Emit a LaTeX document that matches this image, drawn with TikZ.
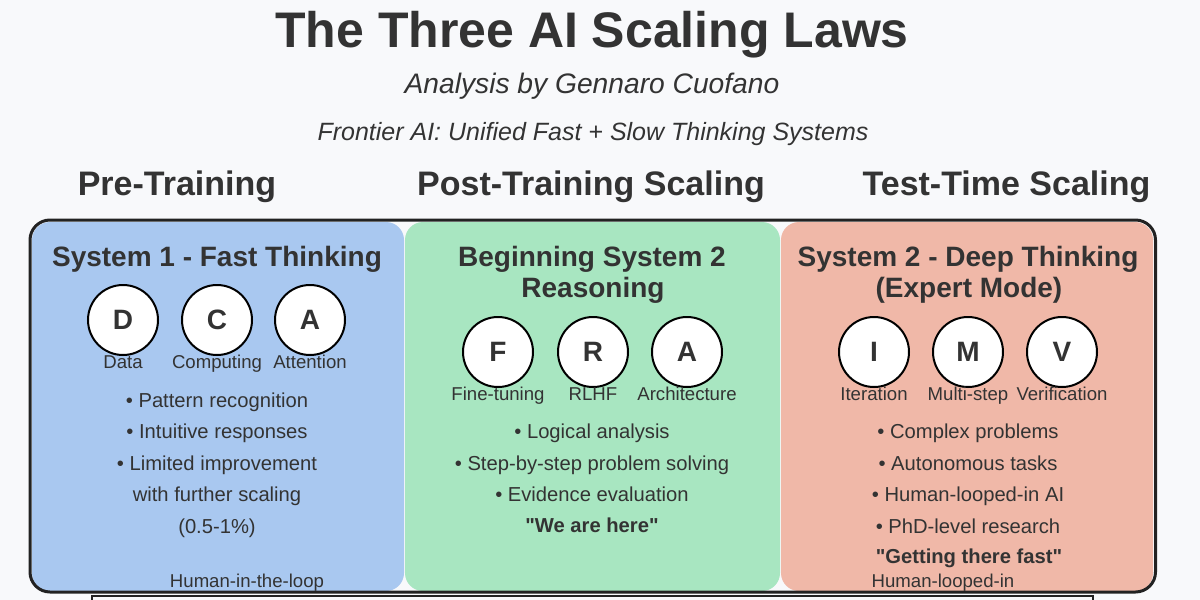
\documentclass[tikz,border=0pt]{standalone}
\usepackage{fontspec}
\setmainfont{Liberation Sans}[Ligatures=TeXOff]
\definecolor{bg}{HTML}{F8F9FB}\definecolor{ink}{HTML}{333333}\definecolor{frame}{HTML}{222222}
\definecolor{pblue}{HTML}{A9C8F0}\definecolor{pgreen}{HTML}{A8E6C1}\definecolor{pred}{HTML}{F0B8A8}
\tikzset{t/.style={text=ink,inner sep=0pt,anchor=base},ttl/.style={t,font=\fontsize{50}{60}\selectfont\bfseries},
sub/.style={t,font=\fontsize{28.2}{34}\selectfont\itshape},hd/.style={t,font=\fontsize{34}{40}\selectfont\bfseries},
pt/.style={t,font=\fontsize{28}{32}\selectfont\bfseries},txt/.style={t,font=\fontsize{20.2}{24}\selectfont},
btxt/.style={txt,font=\fontsize{20.2}{24}\selectfont\bfseries},lbl/.style={t,font=\fontsize{18.6}{22}\selectfont},
cir/.style={circle,draw=black,fill=white,line width=2pt,minimum size=70pt,inner sep=0pt,text=ink,font=\fontsize{28}{32}\selectfont\bfseries},
panel/.style={rounded corners=18pt}}
\begin{document}
\begin{tikzpicture}[x=1pt,y=-1pt]
\useasboundingbox[fill=bg](0,0)rectangle(1200,600);
% titles
\node[ttl](title)at(592,47){The Three AI Scaling Laws};
\node[sub](by)at(592,93){Analysis by Gennaro Cuofano};
\node[sub,font=\fontsize{25}{30}\selectfont\itshape](front)at(593,140){Frontier AI: Unified Fast + Slow Thinking Systems};
\node[hd](h1)at(177,195){Pre-Training};\node[hd](h2)at(591,195){Post-Training Scaling};\node[hd](h3)at(1006.5,195){Test-Time Scaling};
% panels
\fill[panel,pblue](32,222)rectangle(404,591);\fill[panel,pgreen](405,222)rectangle(780,591);\fill[panel,pred](781,222)rectangle(1153,591);
\draw[line width=3pt,frame,rounded corners=20pt](30,220)rectangle(1155.5,592);
\draw[line width=1.5pt,frame](92,601)--(92,596)--(1093,596)--(1093,601);
% panel titles
\node[pt](s1)at(217,266){System 1 - Fast Thinking};
\node[pt](s2)at(592,266){Beginning System 2};\node[pt](s2b)at(593,297){Reasoning};
\node[pt](s3)at(968,266){System 2 - Deep Thinking};\node[pt](s3b)at(969,297){(Expert Mode)};
% circles
\foreach\x/\l/\n[count=\i]in{123/D/Data,217/C/Computing,310/A/Attention}{\node[cir](a\i)at(\x,320){\l};\node[lbl](la\i)at(\x,368){\n};}
\foreach\x/\l/\n[count=\i]in{498/F/Fine-tuning,593/R/RLHF,687/A/Architecture}{\node[cir](b\i)at(\x,352){\l};\node[lbl](lb\i)at(\x,400){\n};}
\foreach\x/\l/\n[count=\i]in{874/I/Iteration,968/M/Multi-step,1062/V/Verification}{\node[cir](c\i)at(\x,352){\l};\node[lbl](lc\i)at(\x,400){\n};}
% bullets
\foreach\s[count=\i]in{• Pattern recognition,• Intuitive responses,• Limited improvement,with further scaling,(0.5-1\%)}\node[txt](ta\i)at(217,{407+31.5*(\i-1)}){\s};
\foreach\s[count=\i]in{• Logical analysis,• Step-by-step problem solving,• Evidence evaluation}\node[txt](tb\i)at(592,{438.5+31.5*(\i-1)}){\s};
\node[btxt](here)at(592,532){"We are here"};
\foreach\s[count=\i]in{• Complex problems,• Autonomous tasks,• Human-looped-in AI,• PhD-level research}\node[txt](tc\i)at(968,{438.5+31.5*(\i-1)}){\s};
\node[btxt](fast)at(969,563){"Getting there fast"};
\node[lbl](hil)at(247,587){Human-in-the-loop};\node[lbl](hli)at(943,587){Human-looped-in};
\end{tikzpicture}
\end{document}
